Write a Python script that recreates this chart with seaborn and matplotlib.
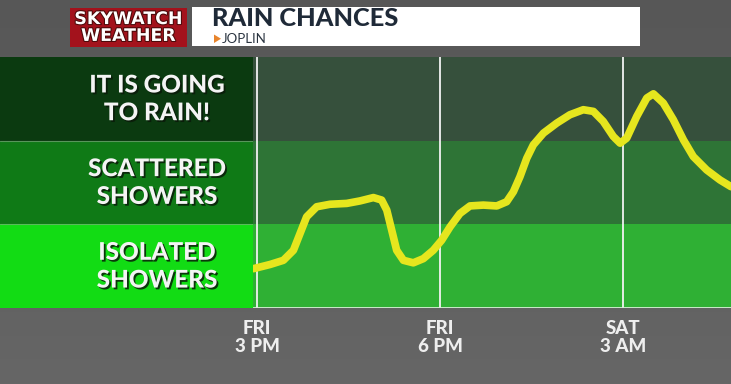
import numpy as np
import pandas as pd
import matplotlib
matplotlib.use("Agg")
import matplotlib.pyplot as plt
import matplotlib.patheffects as pe
from matplotlib.patches import Rectangle, Polygon
import seaborn as sns

# ---------------- data ----------------
band_labels = ["ISOLATED\nSHOWERS", "SCATTERED\nSHOWERS", "IT IS GOING\nTO RAIN!"]
tick_positions = [0, 1, 2]
tick_labels = ["FRI\n3 PM", "FRI\n6 PM", "SAT\n3 AM"]
# curve (x: tick index units, y: band levels 0..3)
curve_x = [-0.020, 0.071, 0.144, 0.199, 0.235, 0.271, 0.326, 0.399, 0.490, 0.563,
           0.636, 0.681, 0.709, 0.736, 0.763, 0.800, 0.854, 0.909, 0.963, 1.009,
           1.055, 1.109, 1.164, 1.237, 1.310, 1.364, 1.401, 1.437, 1.474, 1.510,
           1.565, 1.638, 1.710, 1.783, 1.838, 1.892, 1.947, 1.984, 2.020, 2.075,
           2.130, 2.166, 2.220, 2.275, 2.330, 2.384, 2.457, 2.530, 2.590]
curve_y = [0.47, 0.52, 0.57, 0.69, 0.89, 1.09, 1.21, 1.24, 1.25, 1.28,
           1.32, 1.29, 1.17, 0.93, 0.69, 0.57, 0.54, 0.59, 0.69, 0.81,
           0.97, 1.13, 1.22, 1.23, 1.22, 1.27, 1.39, 1.57, 1.79, 1.95,
           2.09, 2.21, 2.31, 2.37, 2.35, 2.23, 2.05, 1.97, 2.03, 2.29,
           2.51, 2.56, 2.45, 2.25, 2.01, 1.81, 1.65, 1.53, 1.45]
title = "RAIN CHANCES"
location = "JOPLIN"
logo = "SKYWATCH\nWEATHER"

df = pd.DataFrame({"x": curve_x, "y": curve_y})

# ---------------- styling ----------------
sns.set_theme(style="white")
plt.rcParams["font.family"] = ["Lato", "DejaVu Sans"]

W, H = 731, 384
fig = plt.figure(figsize=(W / 100, H / 100), dpi=100)
fig.patch.set_facecolor("#5c5c5c")

def fx(px):
    return px / W

def fy(py):
    return 1 - py / H

# background with gentle vertical shading
bg = fig.add_axes([0, 0, 1, 1])
grad = np.linspace(0, 1, 256).reshape(-1, 1)
bg.imshow(grad, extent=[0, 1, 0, 1], aspect="auto",
          cmap=matplotlib.colors.LinearSegmentedColormap.from_list(
              "g", ["#575757", "#5e5e5e", "#666666"]), zorder=0)
bg.set_xlim(0, 1); bg.set_ylim(0, 1)
bg.axis("off")

plot_top, plot_bot = 57, 308
panel_right = 253
ax_b = fy(plot_bot)
ax_h = (plot_bot - plot_top) / H

# ---- left label panel ----
axl = fig.add_axes([0, ax_b, fx(panel_right), ax_h])
panel_colors = ["#12dc14", "#0f7a16", "#0b3a10"]
for i, (c, lab) in enumerate(zip(panel_colors, band_labels)):
    axl.axhspan(i, i + 1, color=c, lw=0)
    axl.text(0.62, i + 0.5, lab, ha="center", va="center", color="#f4f4f4",
             fontsize=17.5, fontweight="black", linespacing=1.25,
             path_effects=[pe.SimplePatchShadow(offset=(1.3, -1.3), shadow_rgbFace="#0a1a0a", alpha=0.85),
                           pe.Normal()])
for yy in [1, 2]:
    axl.axhline(yy, color="#8aa88a", lw=0.8, alpha=0.6)
axl.set_xlim(0, 1); axl.set_ylim(0, 3)
axl.axis("off")

# ---- main plot ----
ax = fig.add_axes([fx(panel_right), ax_b, 1 - fx(panel_right), ax_h])
plot_colors = ["#2fb034", "#2e7436", "#36503c"]
for i, c in enumerate(plot_colors):
    ax.axhspan(i, i + 1, color=c, lw=0, zorder=0)
for xv in tick_positions:
    ax.axvline(xv, color="#f2f2f2", lw=1.3, zorder=1)
ax.axhline(0, color="#d8f0d8", lw=2, zorder=1)

sns.lineplot(data=df, x="x", y="y", ax=ax, color="#e6e61e", lw=5.5,
             solid_capstyle="round", solid_joinstyle="round", zorder=3,
             estimator=None, sort=False)

ax.set_xlim(-0.022, 2.590)
ax.set_ylim(0, 3)
ax.set_xticks(tick_positions)
ax.set_xticklabels(tick_labels, color="#eeeeee", fontsize=13.5, fontweight="black",
                   linespacing=1.0)
ax.tick_params(axis="x", length=0, pad=9)
ax.set_yticks([])
ax.set_xlabel("")
ax.set_ylabel("")
for s in ax.spines.values():
    s.set_visible(False)

# ---- header ----
fig.patches.append(Rectangle((fx(70), fy(47)), fx(187 - 70), (47 - 8) / H,
                             transform=fig.transFigure, facecolor="#a3121c",
                             edgecolor="none", zorder=5))
fig.text(fx(128.5), fy(27.5), logo, ha="center", va="center", color="white",
         fontsize=12.5, fontweight="heavy", linespacing=0.92,
         family=["Liberation Sans Narrow", "DejaVu Sans"], zorder=6,
         path_effects=[pe.withStroke(linewidth=1.5, foreground="#4a0a0a")])
fig.patches.append(Rectangle((fx(192), fy(46)), fx(640 - 192), (46 - 7) / H,
                             transform=fig.transFigure, facecolor="white",
                             edgecolor="none", zorder=5))
fig.text(fx(212), fy(19), title, ha="left", va="center", color="#1f2a38",
         fontsize=18.3, fontweight="black", zorder=6)
fig.patches.append(Polygon([[fx(214), fy(34.5)], [fx(214), fy(43)], [fx(221), fy(38.75)]],
                           closed=True, transform=fig.transFigure,
                           facecolor="#e8842c", edgecolor="none", zorder=6))
fig.text(fx(222), fy(39), location, ha="left", va="center", color="#2a3440",
         fontsize=9.5, zorder=6)

fig.savefig("out.png", dpi=100)
